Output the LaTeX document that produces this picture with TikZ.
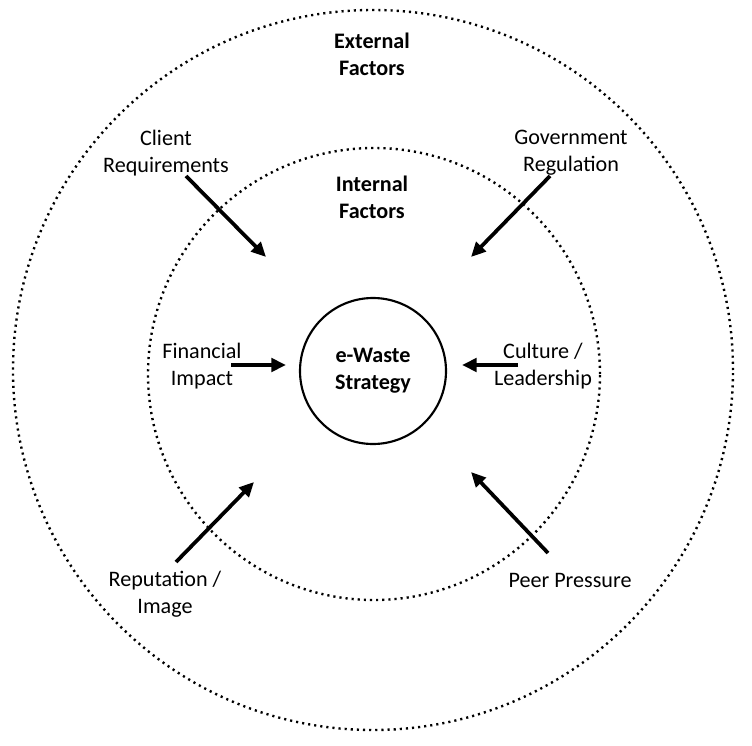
\documentclass[tikz,border=0pt]{standalone}
\usepackage{fontspec}
\setmainfont{Carlito}
\usetikzlibrary{arrows.meta}

\begin{document}
\begin{tikzpicture}[
  x=0.75pt, y=-0.75pt,
  ring/.style={draw, circle, inner sep=0pt, line width=1.8pt,
               dash pattern=on 1.6pt off 3pt},
  lbl/.style={font=\fontsize{16.6}{20.3}\selectfont, align=center, inner sep=0pt},
  head/.style={lbl, font=\fontsize{16.6}{20.3}\selectfont\bfseries},
  push/.style={-{Triangle[length=11pt,width=10pt]}, line width=2.8pt},
  >=Stealth
]
  \useasboundingbox (0,0) rectangle (752,745);

  % rings
  \node[ring, minimum size=540pt] (outer) at (373,370) {};
  \node[ring, minimum size=339pt] (inner) at (374,374) {};
  \node[draw, circle, line width=1.6pt, minimum size=109.5pt, inner sep=0pt,
        lbl, font=\fontsize{16.6}{20.3}\selectfont\bfseries] (core) at (373,371) {e-Waste\\Strategy};

  \node[head] (ext) at (372,54)  {External\\Factors};
  \node[head] (int) at (372,197) {Internal\\Factors};

  \node[lbl] (client) at (166,153) {Client\\Requirements};
  \node[lbl] (gov)    at (571,153) {Government\\Regulation};
  \node[lbl] (fin)    at (202,366) {Financial\\Impact};
  \node[lbl] (cult)   at (543,366) {Culture /\\Leadership};
  \node[lbl] (rep)    at (165,594) {Reputation /\\Image};
  \node[lbl] (peer)   at (570,580) {Peer Pressure};

  % arrow ends
  \coordinate (clientA) at (186,176);  \coordinate (clientB) at (266,257);
  \coordinate (govA)    at (550,176);  \coordinate (govB)    at (471,257);
  \coordinate (finA)    at (231,365);  \coordinate (finB)    at (286,365);
  \coordinate (cultA)   at (518,365);  \coordinate (cultB)   at (462,365);
  \coordinate (repA)    at (176,562);  \coordinate (repB)    at (254,482);
  \coordinate (peerA)   at (548,553);  \coordinate (peerB)   at (471,472);

  \draw[push] (clientA) -- (clientB);
  \draw[push] (govA)    -- (govB);
  \draw[push] (finA)    -- (finB);
  \draw[push] (cultA)   -- (cultB);
  \draw[push] (repA)    -- (repB);
  \draw[push] (peerA)   -- (peerB);
\end{tikzpicture}
\end{document}
